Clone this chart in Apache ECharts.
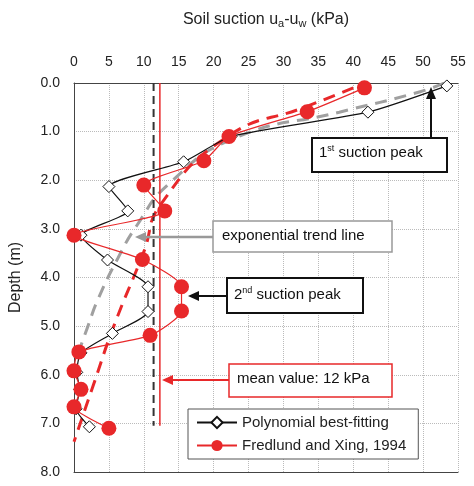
<!DOCTYPE html>
<html><head><meta charset="utf-8">
<script src="https://cdn.jsdelivr.net/npm/echarts@6/dist/echarts.min.js"></script>
<style>html,body{margin:0;background:#fff}#main{width:474px;height:486px}</style>
</head><body><div id="main"></div>
<script>
// depths (m) and suction (kPa)
var polyDepth = [0.06, 0.6, 1.1, 1.62, 2.13, 2.63, 3.13, 3.64, 4.19, 4.7, 5.15, 5.55, 5.95, 6.3, 6.7, 7.07];
var polySuction = [53.4, 42.1, 22.5, 15.7, 5.0, 7.7, 1.0, 4.8, 10.6, 10.6, 5.5, 1.0, 0.4, 0.8, 0.3, 2.2];
var fredDepth = [0.1, 0.59, 1.1, 1.6, 2.1, 2.63, 3.13, 3.63, 4.19, 4.69, 5.19, 5.53, 5.92, 6.3, 6.66, 7.1];
var fredSuction = [41.6, 33.4, 22.2, 18.6, 10.0, 13.0, 0.0, 9.8, 15.4, 15.4, 10.9, 0.7, 0.0, 1.0, 0.0, 5.0];
var expDepth = [0.0, 0.18, 0.6, 1.14, 2.1, 2.93, 3.6, 4.46, 5.0, 5.6];
var expSuction = [53.0, 49.6, 38.0, 22.9, 13.4, 9.0, 6.3, 3.4, 2.0, 0.5];
var fredTrendDepth = [0.1, 0.5, 1.1, 2.5, 3.47, 5.0, 6.2, 7.38];
var fredTrendSuction = [40.0, 33.0, 22.0, 12.4, 10.0, 5.7, 2.8, 0.0];
var meanPoly = 11.4, meanFred = 12.3, meanTop = 0, meanBottom = 7.05;

function pairs(xs, ys) { return xs.map(function (x, i) { return [x, ys[i]]; }); }

var chart = echarts.init(document.getElementById('main'));
var font = 'Arial, "Liberation Sans", sans-serif';
var grid = { left: 73, right: 16, top: 83, bottom: 14 };

var option = {
  animation: false,
  textStyle: { fontFamily: font },
  grid: grid,
  xAxis: [{
    type: 'value', position: 'top', min: 0, max: 55, interval: 5,
    name: '{n|Soil suction u}{s|a}{n|-u}{s|w}{n| (kPa)}', nameLocation: 'middle', nameGap: 54,
    nameTextStyle: { rich: { n: { fontSize: 16, color: '#222', fontFamily: font }, s: { fontSize: 11, color: '#222', verticalAlign: 'bottom', padding: [8, 0, 0, 0], fontFamily: font } } },
    axisLine: { lineStyle: { color: '#444' } }, axisTick: { show: false },
    axisLabel: { fontSize: 14, color: '#222', margin: 14 },
    splitLine: { lineStyle: { type: 'dotted', color: '#bbb' } }
  }, {
    type: 'value', position: 'bottom', min: 0, max: 55, show: true,
    axisLine: { lineStyle: { color: '#444' } }, axisTick: { show: false }, axisLabel: { show: false }, splitLine: { show: false }
  }],
  yAxis: {
    type: 'value', inverse: true, min: 0, max: 8, interval: 1,
    name: 'Depth (m)', nameLocation: 'middle', nameGap: 50, nameRotate: 90,
    nameTextStyle: { fontSize: 16, color: '#222' },
    axisLine: { show: true, lineStyle: { color: '#444' } }, axisTick: { show: false },
    axisLabel: { fontSize: 14, color: '#222', margin: 14, formatter: function (v) { return v.toFixed(1); } },
    splitLine: { lineStyle: { type: 'dotted', color: '#bbb' } }
  },
  legend: {
    orient: 'vertical', left: 188, top: 409, itemGap: 8, itemWidth: 40,
    padding: [6, 12, 6, 8], borderColor: '#555', borderWidth: 1, backgroundColor: '#fff',
    textStyle: { fontSize: 15, color: '#222' },
    data: ['Polynomial best-fitting', 'Fredlund and Xing, 1994']
  },
  series: [
    { type: 'line', name: 'exp', data: pairs(expSuction, expDepth), smooth: true, symbol: 'none',
      lineStyle: { color: '#a0a0a0', width: 3, type: [12, 8] }, z: 1 },
    { type: 'line', name: 'fredTrend', data: pairs(fredTrendSuction, fredTrendDepth), smooth: true, symbol: 'none',
      lineStyle: { color: '#e8282a', width: 3, type: [12, 8] }, z: 1 },
    { type: 'line', name: 'meanPoly', data: [[meanPoly, meanTop], [meanPoly, meanBottom]], symbol: 'none',
      lineStyle: { color: '#333', width: 2, type: [8, 5] } },
    { type: 'line', name: 'meanFred', data: [[meanFred, meanTop], [meanFred, meanBottom]], symbol: 'none',
      lineStyle: { color: '#e8282a', width: 1.5 } },
    { type: 'line', name: 'Polynomial best-fitting', data: pairs(polySuction, polyDepth), smooth: 0.2,
      symbol: 'diamond', symbolSize: 12, itemStyle: { color: '#fff', borderColor: '#111', borderWidth: 1 },
      lineStyle: { color: '#111', width: 1.2 }, z: 3 },
    { type: 'line', name: 'Fredlund and Xing, 1994', data: pairs(fredSuction, fredDepth), smooth: 0.2,
      symbol: 'circle', symbolSize: 15, itemStyle: { color: '#e8282a' },
      lineStyle: { color: '#e8282a', width: 1.2 }, z: 4 }
  ],
  graphic: [
    // 1st suction peak
    { type: 'line', shape: { x1: 431, y1: 138, x2: 431, y2: 96 }, style: { stroke: '#111', lineWidth: 2 }, z: 10 },
    { type: 'polygon', shape: { points: [[431, 87], [426, 99], [436, 99]] }, style: { fill: '#111' }, z: 10 },
    { type: 'rect', shape: { x: 312, y: 138, width: 135, height: 34 }, style: { fill: '#fff', stroke: '#111', lineWidth: 2 }, z: 10 },
    { type: 'text', left: 319, top: 144, z: 11, style: { text: '1{sup|st} suction peak', fill: '#111', font: '15px ' + font, rich: { sup: { fontSize: 9, verticalAlign: 'top', padding: [0, 0, 8, 0] } } } },
    // exponential trend line
    { type: 'line', shape: { x1: 213, y1: 237, x2: 143, y2: 237 }, style: { stroke: '#999', lineWidth: 2.5 }, z: 10 },
    { type: 'polygon', shape: { points: [[135, 237], [146, 232], [146, 242]] }, style: { fill: '#999' }, z: 10 },
    { type: 'rect', shape: { x: 213, y: 221, width: 179, height: 31 }, style: { fill: '#fff', stroke: '#999', lineWidth: 1.5 }, z: 10 },
    { type: 'text', left: 222, top: 228, z: 11, style: { text: 'exponential trend line', fill: '#111', font: '15px ' + font } },
    // 2nd suction peak
    { type: 'line', shape: { x1: 227, y1: 296, x2: 196, y2: 296 }, style: { stroke: '#111', lineWidth: 2 }, z: 10 },
    { type: 'polygon', shape: { points: [[188, 296], [199, 291], [199, 301]] }, style: { fill: '#111' }, z: 10 },
    { type: 'rect', shape: { x: 227, y: 278, width: 136, height: 35 }, style: { fill: '#fff', stroke: '#111', lineWidth: 2 }, z: 10 },
    { type: 'text', left: 234, top: 286, z: 11, style: { text: '2{sup|nd} suction peak', fill: '#111', font: '15px ' + font, rich: { sup: { fontSize: 9, verticalAlign: 'top', padding: [0, 0, 8, 0] } } } },
    // mean value
    { type: 'line', shape: { x1: 229, y1: 380, x2: 170, y2: 380 }, style: { stroke: '#e8282a', lineWidth: 2 }, z: 10 },
    { type: 'polygon', shape: { points: [[162, 380], [173, 375], [173, 385]] }, style: { fill: '#e8282a' }, z: 10 },
    { type: 'rect', shape: { x: 229, y: 364, width: 163, height: 33 }, style: { fill: '#fff', stroke: '#e8282a', lineWidth: 1.5 }, z: 10 },
    { type: 'text', left: 237, top: 371, z: 11, style: { text: 'mean value: 12 kPa', fill: '#111', font: '15px ' + font } }
  ]
};
chart.setOption(option);
</script>
</body></html>
